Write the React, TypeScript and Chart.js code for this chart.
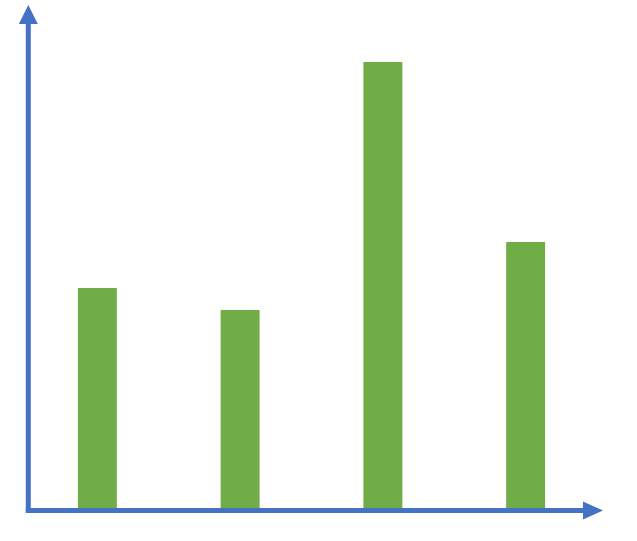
import React, { useEffect, useRef } from "react";
import { Chart, registerables } from "chart.js";

Chart.register(...registerables);

const categories = ["A", "B", "C", "D"];
const values = [4.4, 3.96, 8.92, 5.32];
const yMax = 10;

const BLUE = "#4472C4";
const GREEN = "#70AD47";

const axesPlugin = {
  id: "arrowAxes",
  beforeDatasetsDraw(chart: any) {
    const ctx = chart.ctx;
    const { left, bottom } = chart.chartArea;
    const ax = left + 2.3;
    const ay = bottom + 2.5;
    ctx.save();
    ctx.strokeStyle = BLUE;
    ctx.fillStyle = BLUE;
    ctx.lineWidth = 5;
    ctx.lineCap = "butt";
    // vertical axis
    ctx.beginPath();
    ctx.moveTo(ax, ay + 2.5);
    ctx.lineTo(ax, 22);
    ctx.stroke();
    // horizontal axis
    ctx.beginPath();
    ctx.moveTo(ax - 2.5, ay);
    ctx.lineTo(585, ay);
    ctx.stroke();
    // up arrow
    ctx.beginPath();
    ctx.moveTo(ax, 5);
    ctx.lineTo(ax + 9.5, 24);
    ctx.lineTo(ax - 9.5, 24);
    ctx.closePath();
    ctx.fill();
    // right arrow
    ctx.beginPath();
    ctx.moveTo(603, ay);
    ctx.lineTo(583, ay - 9);
    ctx.lineTo(583, ay + 9);
    ctx.closePath();
    ctx.fill();
    ctx.restore();
  },
};

export default function App() {
  const ref = useRef<HTMLCanvasElement>(null);
  useEffect(() => {
    if (!ref.current) return;
    const chart = new Chart(ref.current, {
      type: "bar",
      data: {
        labels: categories,
        datasets: [
          {
            data: values,
            backgroundColor: GREEN,
            borderWidth: 0,
            barPercentage: 0.273,
            categoryPercentage: 1,
          },
        ],
      },
      options: {
        animation: false,
        responsive: false,
        devicePixelRatio: 1,
        layout: { padding: { left: 26, right: 40, top: 8, bottom: 33 } },
        plugins: { legend: { display: false }, tooltip: { enabled: false } },
        scales: {
          x: { display: false },
          y: { display: false, min: 0, max: yMax },
        },
      },
      plugins: [axesPlugin],
    });
    return () => chart.destroy();
  }, []);
  return (
    <div style={{ position: "fixed", left: 0, top: 0, width: 637, height: 541, background: "#fff" }}>
      <canvas ref={ref} width={637} height={541} />
    </div>
  );
}
